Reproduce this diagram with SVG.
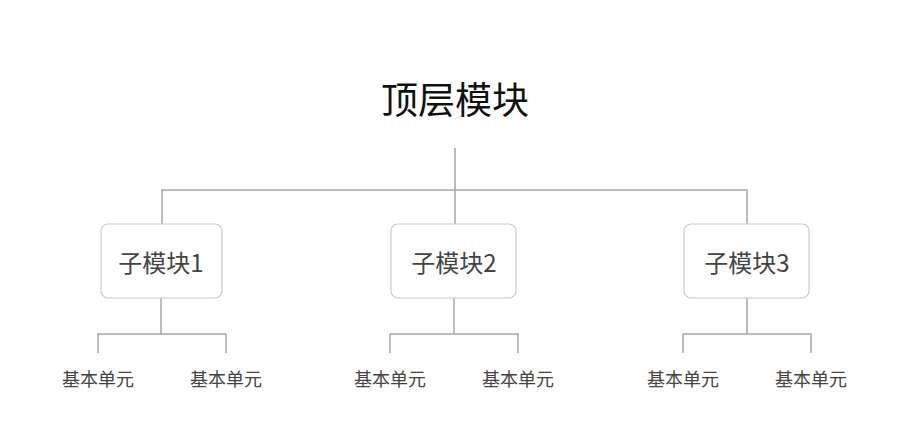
<svg xmlns="http://www.w3.org/2000/svg" width="908" height="444" viewBox="0 0 908 444">
<style>
.l{stroke:#a6a6a6;stroke-width:1.5;fill:none}
.b{fill:#fff;stroke:#c8c8c8;stroke-width:1.2}
text{font-family:"Noto Sans CJK SC","Noto Sans",sans-serif;text-anchor:middle}
.m{font-size:24px;fill:#444}
.s{font-size:18px;fill:#444}
</style>
<rect width="908" height="444" fill="#fff"/>
<g id="connectors">
<path class="l" d="M455 148V190M162 224V190H747V224M455 190V224"/>
<path class="l" d="M161 298V334M98 353V334H226V353"/>
<path class="l" d="M454 298V334M390 353V334H518V353"/>
<path class="l" d="M747 298V334M683 353V334H811V353"/>
</g>
<g id="top"><text x="455" y="114" style="font-size:37px;fill:#111">顶层模块</text></g>
<g id="m1"><rect class="b" x="101" y="224" width="121" height="74" rx="7"/><text class="m" x="161" y="272">子模块1</text></g>
<g id="m2"><rect class="b" x="391" y="224" width="125" height="74" rx="7"/><text class="m" x="454" y="272">子模块2</text></g>
<g id="m3"><rect class="b" x="684" y="224" width="125" height="74" rx="7"/><text class="m" x="747" y="272">子模块3</text></g>
<g id="u1"><text class="s" x="98" y="386">基本单元</text></g>
<g id="u2"><text class="s" x="226" y="386">基本单元</text></g>
<g id="u3"><text class="s" x="390" y="386">基本单元</text></g>
<g id="u4"><text class="s" x="518" y="386">基本单元</text></g>
<g id="u5"><text class="s" x="683" y="386">基本单元</text></g>
<g id="u6"><text class="s" x="811" y="386">基本单元</text></g>
</svg>
